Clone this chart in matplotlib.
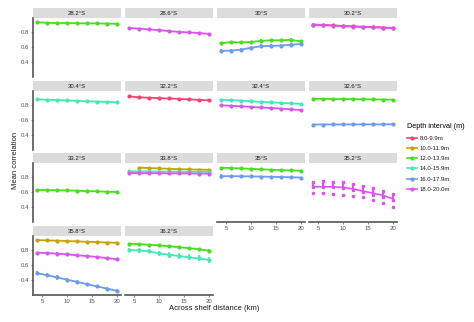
import numpy as np
import matplotlib
matplotlib.use('Agg')
import matplotlib.pyplot as plt
from matplotlib.lines import Line2D

plt.rcParams['font.family'] = ['Liberation Sans', 'DejaVu Sans']

# Data
x_km = [4, 6, 8, 10, 12, 14, 16, 18, 20]
x_from6 = [6, 8, 10, 12, 14, 16, 18, 20]

depths = ['8.0-9.9m', '10.0-11.9m', '12.0-13.9m', '14.0-15.9m', '16.0-17.9m', '18.0-20.0m']
colors = ['#F2446F', '#C4A400', '#46E01C', '#44E8BA', '#6C9CEE', '#DA55EE']

lat_labels = ['28.2°S', '28.6°S', '30°S', '30.2°S', '30.4°S', '32.2°S', '32.4°S',
              '32.6°S', '33.2°S', '33.8°S', '35°S', '35.2°S', '35.8°S', '36.2°S']

p282_green = [0.930, 0.922, 0.920, 0.920, 0.918, 0.915, 0.915, 0.912, 0.910]
p286_mag = [0.855, 0.845, 0.835, 0.825, 0.812, 0.802, 0.795, 0.787, 0.775]
p30_green = [0.650, 0.665, 0.662, 0.667, 0.682, 0.690, 0.690, 0.695, 0.675]
p30_green_err = [0.02, 0.015, 0.01, 0.015, 0.02, 0.02, 0.02, 0.02, 0.02]
p30_blue = [0.548, 0.552, 0.565, 0.590, 0.610, 0.615, 0.620, 0.630, 0.640]
p30_blue_err = [0.025, 0.025, 0.02, 0.025, 0.025, 0.025, 0.025, 0.02, 0.02]
p302_red = [0.900, 0.895, 0.888, 0.882, 0.875, 0.870, 0.867, 0.860, 0.855]
p302_mag = [0.898, 0.892, 0.885, 0.878, 0.872, 0.867, 0.863, 0.858, 0.852]
p304_aqua = [0.875, 0.870, 0.866, 0.861, 0.856, 0.850, 0.846, 0.841, 0.836]
p322_red = [0.915, 0.903, 0.897, 0.892, 0.887, 0.882, 0.875, 0.869, 0.862]
p324_aqua = [0.870, 0.865, 0.858, 0.850, 0.843, 0.836, 0.829, 0.822, 0.815]
p324_mag = [0.797, 0.790, 0.783, 0.775, 0.767, 0.760, 0.752, 0.742, 0.732]
p326_green = [0.883, 0.882, 0.880, 0.879, 0.878, 0.877, 0.875, 0.873, 0.871]
p326_blue = [0.540, 0.540, 0.541, 0.541, 0.541, 0.542, 0.542, 0.542, 0.543]
p332_green = [0.628, 0.626, 0.624, 0.621, 0.617, 0.612, 0.609, 0.604, 0.600]
p338_olive = [0.925, 0.920, 0.915, 0.910, 0.905, 0.902, 0.899, 0.897]
p338_aqua = [0.875, 0.875, 0.874, 0.873, 0.872, 0.871, 0.870, 0.870, 0.869]
p338_mag = [0.853, 0.852, 0.851, 0.850, 0.849, 0.848, 0.847, 0.846, 0.845]
p35_green = [0.925, 0.920, 0.915, 0.910, 0.903, 0.897, 0.892, 0.888, 0.884]
p35_blue = [0.810, 0.812, 0.810, 0.808, 0.806, 0.803, 0.800, 0.797, 0.793]
p35_blue_err = [0.03, 0.015, 0.012, 0.012, 0.012, 0.012, 0.012, 0.012, 0.012]
p352_mag_line = [0.670, 0.670, 0.668, 0.662, 0.640, 0.612, 0.585, 0.555, 0.510]
p352_mag_lo = [0.670, 0.670, 0.670, 0.650, 0.630, 0.600, 0.560, 0.530, 0.500]
p352_mag_hi = [0.740, 0.745, 0.740, 0.730, 0.710, 0.680, 0.650, 0.620, 0.580]
p352_low_pts = [0.585, 0.585, 0.575, 0.565, 0.545, 0.530, 0.490, 0.460, 0.400]
p352_low_err = [0.0, 0.018, 0.016, 0.014, 0.0, 0.0, 0.0, 0.0, 0.0]
p358_olive = [0.933, 0.928, 0.925, 0.920, 0.915, 0.910, 0.905, 0.900, 0.897]
p358_mag = [0.765, 0.760, 0.752, 0.742, 0.730, 0.720, 0.708, 0.692, 0.677]
p358_blue = [0.490, 0.465, 0.435, 0.405, 0.375, 0.345, 0.315, 0.285, 0.255]
p358_blue_err = [0.025, 0.03, 0.03, 0.025, 0.02, 0.02, 0.025, 0.025, 0.025]
p362_green = [0.884, 0.878, 0.870, 0.862, 0.850, 0.838, 0.825, 0.810, 0.792]
p362_aqua = [0.800, 0.795, 0.782, 0.755, 0.738, 0.720, 0.703, 0.687, 0.668]
p362_aqua_err = [0.03, 0.03, 0.025, 0.035, 0.04, 0.04, 0.04, 0.04, 0.04]

# panel -> list of (x, y, err, colour index)
panels = [
    [(x_km, p282_green, 0.008, 2)],
    [(x_km, p286_mag, 0.008, 5)],
    [(x_km, p30_green, p30_green_err, 2), (x_km, p30_blue, p30_blue_err, 4)],
    [(x_km, p302_red, 0.01, 0), (x_km, p302_mag, 0.012, 5)],
    [(x_km, p304_aqua, 0.006, 3)],
    [(x_km, p322_red, 0.008, 0)],
    [(x_km, p324_aqua, 0.007, 3), (x_km, p324_mag, 0.008, 5)],
    [(x_km, p326_green, 0.008, 2), (x_km, p326_blue, 0.006, 4)],
    [(x_km, p332_green, 0.008, 2)],
    [(x_from6, p338_olive, 0.01, 1), (x_km, p338_aqua, 0.006, 3), (x_km, p338_mag, 0.006, 5)],
    [(x_km, p35_green, 0.01, 2), (x_km, p35_blue, p35_blue_err, 4)],
    [],
    [(x_km, p358_olive, 0.012, 1), (x_km, p358_mag, 0.015, 5), (x_km, p358_blue, p358_blue_err, 4)],
    [(x_km, p362_green, 0.015, 2), (x_km, p362_aqua, p362_aqua_err, 3)],
]

W, H = 474, 322
fig = plt.figure(figsize=(W / 100, H / 100), dpi=100)

col_left = [33, 125, 217, 309]
strip_top = [8, 81, 153, 226]
pw, strip_h, ph = 88, 10, 59
axis_col = '#555555'
tick_col = '#4D4D4D'

for i, lab in enumerate(lat_labels):
    r, c = divmod(i, 4)
    l = col_left[c]
    st = strip_top[r]
    sax = fig.add_axes([l / W, 1 - (st + strip_h) / H, pw / W, strip_h / H])
    sax.set_facecolor('#DCDCDC')
    sax.set_xticks([])
    sax.set_yticks([])
    for s in sax.spines.values():
        s.set_visible(False)
    sax.text(0.5, 0.45, lab, ha='center', va='center', fontsize=4.3, color='#1A1A1A',
             transform=sax.transAxes)

    ax = fig.add_axes([l / W, 1 - (st + strip_h + ph) / H, pw / W, ph / H])
    ax.set_xlim(3.2, 20.8)
    ax.set_ylim(0.2, 0.987)
    for s in ['top', 'right']:
        ax.spines[s].set_visible(False)
    bottom_axis = (r == 3) or (r == 2 and c >= 2)
    ax.spines['left'].set_visible(c == 0)
    ax.spines['bottom'].set_visible(bottom_axis)
    ax.spines['left'].set_color(axis_col)
    ax.spines['bottom'].set_color(axis_col)
    ax.spines['left'].set_linewidth(1.2)
    ax.spines['bottom'].set_linewidth(1.2)
    ax.set_yticks([0.4, 0.6, 0.8])
    ax.set_xticks([5, 10, 15, 20])
    ax.tick_params(length=1.5, width=0.5, colors=axis_col, labelsize=4.3,
                   labelcolor=tick_col, pad=1.5)
    if c != 0:
        ax.tick_params(axis='y', left=False, labelleft=False)
    if not bottom_axis:
        ax.tick_params(axis='x', bottom=False, labelbottom=False)

    for xs, ys, err, ci in panels[i]:
        col = colors[ci]
        ax.plot(xs, ys, color=col, lw=1.3, zorder=2)
        ax.errorbar(xs, ys, yerr=err, fmt='o', color=col, ms=2.0, elinewidth=1.2,
                    capsize=0, zorder=3)

    if lab == '35.2°S':
        col = colors[5]
        ax.plot(x_km, p352_mag_line, color=col, lw=1.2)
        ax.vlines(x_km, p352_mag_lo, p352_mag_hi, color=col, lw=1.6)
        ax.plot(x_km, p352_mag_hi, 's', color=col, ms=1.6)
        ax.plot(x_km, p352_mag_lo, 's', color=col, ms=1.6)
        ax.errorbar(x_km, p352_low_pts, yerr=p352_low_err, fmt='o', color=col, ms=1.6,
                    elinewidth=1.2, capsize=0)

fig.text(214 / W, 1 - 309 / H, 'Across shelf distance (km)', ha='center', va='center',
         fontsize=5.5, color='#1A1A1A')
fig.text(16 / W, 1 - 160 / H, 'Mean correlation', ha='center', va='center',
         rotation=90, fontsize=5.5, color='#1A1A1A')

handles = [Line2D([0], [0], color=c, lw=1.2, marker='o', ms=2.0) for c in colors]
leg = fig.legend(handles, depths, title='Depth interval (m)', loc='upper left',
                 bbox_to_anchor=(402 / W, 1 - 118 / H), frameon=False, fontsize=4.3,
                 title_fontsize=5.2, handlelength=1.6, labelspacing=0.85,
                 handletextpad=0.5, alignment='left')
for t in leg.get_texts():
    t.set_color('#1A1A1A')

fig.savefig('out.png', dpi=100)
